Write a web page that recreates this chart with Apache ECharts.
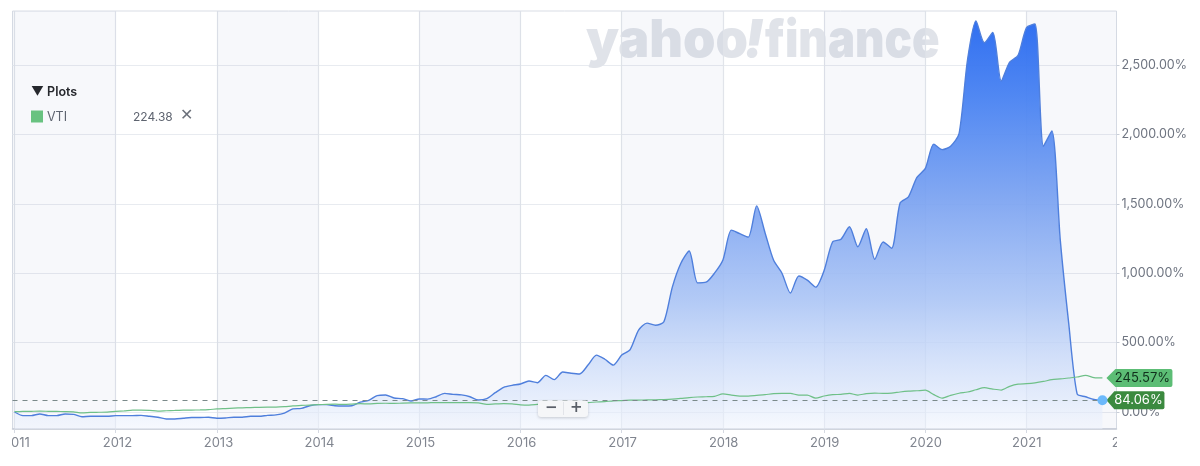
<!DOCTYPE html>
<html>
<head>
<meta charset="utf-8">
<script src="https://cdn.jsdelivr.net/npm/echarts@6/dist/echarts.min.js"></script>
<style>
    html, body { margin: 0; padding: 0; background: #fff; }
    #chart { width: 1200px; height: 466px; }
</style>
</head>
<body>
<div id="chart"></div>
<script>
const startYear = 2011
const yearTicks = [2011, 2012, 2013, 2014, 2015, 2016, 2017, 2018, 2019, 2020, 2021]
const yearLabels = [2011, 2012, 2013, 2014, 2015, 2016, 2017, 2018, 2019, 2020, 2021, 2022]
const bandStarts = [2011, 2013, 2015, 2017, 2019, 2021]
const percentTicks = [0, 500, 1000, 1500, 2000, 2500]

// monthly, Jan 2011 - Oct 2021 (%)
const blueValues = [
    0, -26, -26, -14, -26, -26, -14, -17, -34, -31, -31, -31,
    -26, -26, -26, -24, -31, -38, -50, -50, -45, -40, -40, -38,
    -45, -43, -38, -38, -31, -31, -24, -21, -8, 22, 26, 45,
    53, 53, 45, 43, 45, 71, 84, 118, 122, 101, 96, 79,
    94, 93, 110, 134, 127, 123, 110, 86, 96, 139, 178, 192,
    202, 223, 211, 264, 233, 288, 279, 274, 338, 410, 380, 338,
    410, 450, 590, 640, 625, 650, 900, 1070, 1160, 930, 935, 1000,
    1095, 1310, 1285, 1260, 1485, 1290, 1095, 1000, 857, 980, 950, 900,
    1020, 1225, 1245, 1335, 1190, 1320, 1100, 1225, 1180, 1505, 1550, 1690,
    1755, 1930, 1890, 1915, 2005, 2535, 2817, 2660, 2735, 2385, 2520, 2570,
    2770, 2795, 1915, 2025, 1240, 640, 130, 110, 90, 84.06,
]
const greenValues = [
    2, 4, 5, 6, 5, 4, 3, 1, -6, -3, -2, -1,
    4, 8, 13, 14, 12, 7, 9, 11, 13, 14, 15, 17,
    22, 25, 28, 30, 32, 34, 35, 35, 38, 44, 47, 50,
    53, 55, 56, 55, 57, 60, 58, 62, 63, 62, 64, 65,
    65, 66, 68, 68, 68, 67, 67, 66, 55, 58, 60, 58,
    52, 50, 55, 60, 62, 64, 66, 66, 68, 72, 75, 80,
    82, 85, 86, 87, 88, 90, 93, 98, 104, 108, 110, 113,
    130, 122, 115, 115, 120, 125, 132, 134, 134, 122, 122, 100,
    115, 125, 127, 134, 122, 132, 136, 134, 136, 144, 150, 153,
    157, 125, 100, 120, 135, 144, 160, 175, 165, 158, 185, 201,
    204, 210, 220, 233, 238, 245, 252, 264, 248, 245.57,
]

const fontName = 'Inter, "Liberation Sans", sans-serif'
const xMin = 2010.98
const xMax = 2021.889
const yMin = -122.5
const yMax = 2889
const tagPath = 'path://M0 9 L9 0 L64 0 Q66 0 66 2 L66 16 Q66 18 64 18 L9 18 Z'

const toSeries = (values) => values.map((v, i) => [startYear + i / 12, v])
const lastX = startYear + (blueValues.length - 1) / 12
const lastBlue = blueValues[blueValues.length - 1]
const lastGreen = greenValues[greenValues.length - 1]

function endTag(value, color, textColor, width) {
    return {
        coord: [lastX, value],
        symbol: tagPath,
        symbolSize: [width, 18],
        symbolOffset: [width / 2 + 4, 0],
        itemStyle: { color: color },
        label: {
            show: true,
            position: 'inside',
            offset: [3, 0],
            formatter: value.toFixed(2) + '%',
            color: textColor,
            fontFamily: fontName,
            fontSize: 13,
        },
    }
}

let myChart = echarts.init(document.querySelector('#chart'))
let option
option = {
    animation: false,
    grid: [
        {
            left: 12.5, top: 11, width: 1104, height: 418,
            show: true, backgroundColor: '#fff', borderColor: '#d9dde5', borderWidth: 1,
        },
        { left: 12.5, top: 11, width: 1135.5, height: 418 },
    ],
    xAxis: [
        {
            type: 'value', gridIndex: 0, min: xMin, max: xMax,
            axisLine: { show: true, onZero: false, lineStyle: { color: '#c9ced8', width: 1.5 } },
            axisTick: { show: true, length: 4, customValues: yearTicks, lineStyle: { color: '#d5d9e2' } },
            axisLabel: { show: false },
            splitLine: { show: true, lineStyle: { color: '#e1e4ea', width: 1.2 } },
        },
        {
            type: 'value', gridIndex: 1, min: xMin, max: 2022.2,
            axisLine: { show: false },
            axisTick: { show: false },
            splitLine: { show: false },
            axisLabel: {
                show: true, customValues: yearLabels, margin: 8,
                color: '#80858f', fontFamily: fontName, fontSize: 13,
                formatter: (v) => String(v),
            },
        },
    ],
    yAxis: [
        {
            type: 'value', gridIndex: 0, position: 'right', min: yMin, max: yMax,
            axisLine: { show: false },
            axisTick: { show: true, length: 3, customValues: percentTicks, lineStyle: { color: '#c9ced8' } },
            splitLine: { show: true, lineStyle: { color: '#e8ebf0', width: 1.2 } },
            axisLabel: {
                customValues: percentTicks, margin: 5,
                color: '#6e7480', fontFamily: fontName, fontSize: 12.5,
                formatter: (v) => v.toLocaleString('en-US', { minimumFractionDigits: 2 }) + '%',
            },
        },
        { type: 'value', gridIndex: 1, show: false, min: yMin, max: yMax },
    ],
    series: [
        {
            name: 'bands', type: 'line', data: [], z: 1, silent: true,
            markArea: {
                silent: true,
                itemStyle: { color: 'rgba(80,100,160,0.045)' },
                data: bandStarts.map((y) => [{ xAxis: y === 2011 ? xMin : y }, { xAxis: Math.min(y + 1, xMax) }]),
            },
        },
        {
            name: 'Symbol', type: 'line', data: toSeries(blueValues), z: 3,
            smooth: 0.25, showSymbol: false, silent: true,
            lineStyle: { color: '#4f7fdc', width: 1.4 },
            areaStyle: {
                origin: 'start',
                opacity: 1,
                color: new echarts.graphic.LinearGradient(0, 0, 0, 1, [
                    { offset: 0, color: 'rgba(42,107,240,0.97)' },
                    { offset: 0.19, color: 'rgba(72,130,242,0.95)' },
                    { offset: 0.44, color: 'rgba(122,162,241,0.92)' },
                    { offset: 0.69, color: 'rgba(170,196,245,0.88)' },
                    { offset: 0.93, color: 'rgba(222,232,251,0.7)' },
                    { offset: 1, color: 'rgba(238,243,253,0.5)' },
                ]),
            },
            markLine: {
                silent: true, symbol: 'none', animation: false,
                lineStyle: { color: '#7b8a8a', type: [5, 5], width: 1 },
                label: { show: false },
                data: [[{ coord: [xMin, lastBlue] }, { coord: [lastX, lastBlue] }]],
            },
            markPoint: {
                silent: true, animation: false,
                data: [
                    endTag(lastGreen, '#5cbd75', '#10301c', 66),
                    endTag(lastBlue, '#3b8a3f', '#fff', 58),
                    { coord: [lastX, lastBlue], symbol: 'circle', symbolSize: 10, itemStyle: { color: '#6cb9fb' }, label: { show: false } },
                ],
            },
        },
        {
            name: 'VTI', type: 'line', data: toSeries(greenValues), z: 4,
            smooth: 0.25, showSymbol: false, silent: true,
            lineStyle: { color: '#6fc088', width: 1.2 },
        },
    ],
    graphic: [
        // watermark
        { type: 'text', z: 1, silent: true, left: 586, top: 15, style: { text: 'yahoo', fill: '#e0e3e9', font: '900 52px Inter' } },
        { type: 'text', z: 1, silent: true, left: 744, top: 15, style: { text: '!', fill: '#e0e3e9', font: 'italic 900 52px Inter' } },
        { type: 'text', z: 1, silent: true, left: 765, top: 15, scaleX: 0.875, style: { text: 'finance', fill: '#e0e3e9', font: '900 52px Inter' } },

        // plots panel
        { type: 'text', z: 20, silent: true, left: 31, top: 86, style: { text: '▼ Plots', fill: '#26282d', font: '600 12.5px ' + fontName } },
        { type: 'rect', z: 20, silent: true, left: 31, top: 110.5, shape: { width: 12, height: 12 }, style: { fill: '#68c280' } },
        { type: 'text', z: 20, silent: true, left: 47, top: 111, style: { text: 'VTI', fill: '#5e6470', font: '12.5px ' + fontName } },
        { type: 'text', z: 20, silent: true, left: 133, top: 111, style: { text: '224.38', fill: '#5e6470', font: '12px ' + fontName } },
        { type: 'text', z: 20, silent: true, left: 180, top: 108, style: { text: '✕', fill: '#6c717b', font: '16px "DejaVu Sans"' } },

        // zoom buttons
        {
            type: 'rect', z: 30, silent: true, left: 538, top: 400.5,
            shape: { width: 50, height: 16.5, r: 3 },
            style: { fill: '#f5f6f8', shadowBlur: 3, shadowColor: 'rgba(0,0,0,0.18)', shadowOffsetY: 1 },
        },
        { type: 'rect', z: 31, silent: true, left: 563, top: 402, shape: { width: 1, height: 13 }, style: { fill: '#e2e4e9' } },
        { type: 'text', z: 31, silent: true, left: 545, top: 400.5, style: { text: '−', fill: '#5a5f68', font: 'bold 15px "DejaVu Sans"' } },
        { type: 'text', z: 31, silent: true, left: 570, top: 400.5, style: { text: '+', fill: '#5a5f68', font: 'bold 15px "DejaVu Sans"' } },

        // year labels are cut off at the plot edges
        { type: 'rect', z: 40, silent: true, left: 0, top: 431, shape: { width: 12, height: 35 }, style: { fill: '#fff' } },
        { type: 'rect', z: 40, silent: true, left: 1117, top: 431, shape: { width: 83, height: 35 }, style: { fill: '#fff' } },
    ],
}
myChart.setOption(option)
</script>
</body>
</html>
